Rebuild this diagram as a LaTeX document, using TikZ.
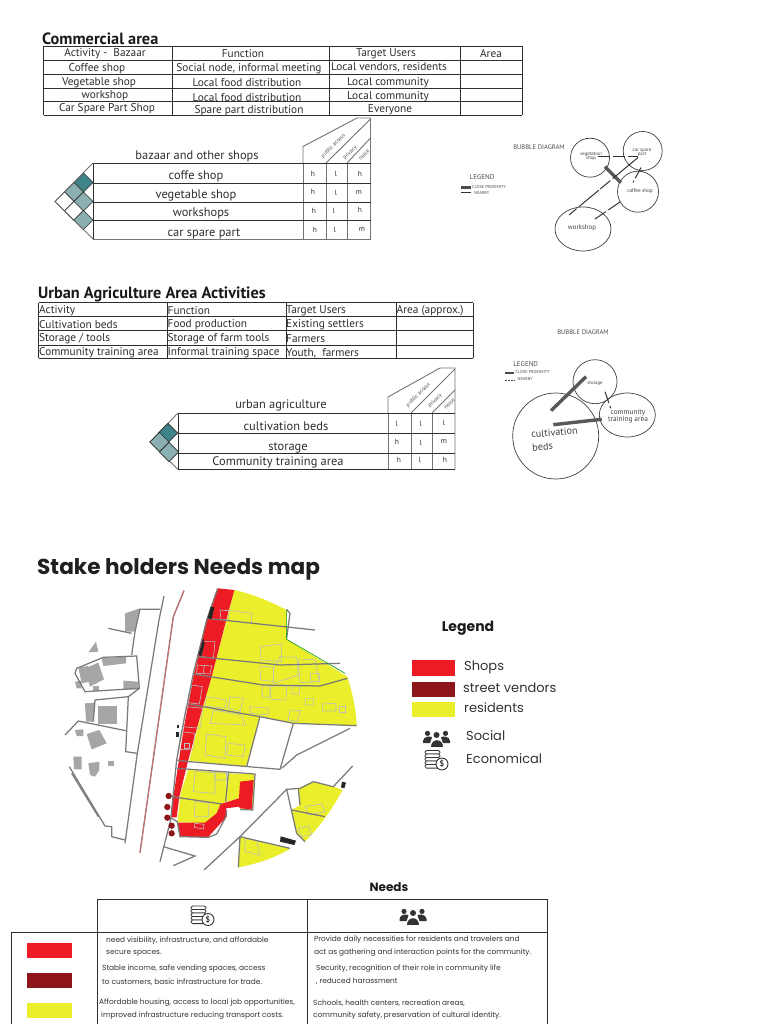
\documentclass[tikz,border=0pt]{standalone}
\usepackage{fontspec}
\setmainfont{PT Sans}
\newfontfamily\pp{Poppins}
\colorlet{ink}{black!82}
\definecolor{tealdark}{HTML}{3F8488}
\definecolor{teallight}{HTML}{8BB0B2}
\definecolor{shopred}{HTML}{ED1C24}
\definecolor{vendred}{HTML}{8E1519}
\definecolor{resyel}{HTML}{EBEE2B}
\colorlet{mapline}{black!52}
\colorlet{mapbld}{black!35}
\colorlet{mapthin}{black!25}
\newcommand{\fs}[1]{\fontsize{#1}{#1}\selectfont}
\newcommand{\cellc}[3]{\path[#3] (#1,#2) -- ++(9.6,-9.6) -- ++(9.6,9.6) -- ++(-9.6,9.6) -- cycle;}
\tikzset{
 gridline/.style={draw=ink,line width=0.9pt},
 gridsoft/.style={draw=black!55,line width=0.9pt},
 ttl/.style={font=\fs{16.3}\bfseries,text=black!90,inner sep=0,anchor=west},
 tt/.style={font=\fs{11.3},text=ink,inner sep=0,yshift=-1.5pt},
 tl/.style={tt,anchor=west},
 rowlab/.style={font=\fs{12.4},text=ink,inner sep=0,yshift=-1.5pt},
 hl/.style={font=\fs{7.5},text=ink,inner sep=0,yshift=-1pt},
 rot/.style={font=\fs{5.6},text=black!70,inner sep=0,rotate=45},
 bub/.style={draw=black!75,line width=0.7pt,circle,inner sep=0},
 tinyt/.style={text=black!70,inner sep=0},
 bt/.style={text=black!75,inner sep=0,align=center},
 thickline/.style={draw=black!65,line width=3.4pt},
 dashline/.style={draw=black!80,line width=1pt,dash pattern=on 12pt off 3pt},
 pp12/.style={font=\pp\fs{13},text=black!80,inner sep=0,anchor=west},
 ppbold/.style={font=\pp\bfseries\fs{14},text=black!90,inner sep=0},
 nd/.style={font=\pp\fs{7.4},text=black!80,inner sep=0,anchor=west},
 peopleicon/.pic={
  \fill[black!80] (0,-3) circle (3);
  \fill[black!80] (-9,-4.6) circle (2.6);
  \fill[black!80] (9,-4.6) circle (2.6);
  \fill[black!80] (-13.5,3) .. controls (-13.5,-2) and (-5,-2.5) .. (-4.5,-0.5) -- (-6.5,5) -- (-13.5,5) -- cycle;
  \fill[black!80] (13.5,3) .. controls (13.5,-2) and (5,-2.5) .. (4.5,-0.5) -- (6.5,5) -- (13.5,5) -- cycle;
  \fill[black!80] (-6,8.5) .. controls (-6,-0.5) and (6,-0.5) .. (6,8.5) -- cycle;
 },
 coinsicon/.pic={
  \foreach \yy in {-8,-4.5,-1,2.5,6}{
   \draw[black!80,line width=0.8pt,fill=white,rounded corners=1.5pt] (-11,\yy-2) rectangle (4,\yy+1.6);
  }
  \draw[black!80,line width=0.9pt,fill=white] (6,3.5) circle (6);
  \node[font=\fs{8}\bfseries,text=black!80,inner sep=0] at (6,3.5) {\$};
 }
}
\begin{document}
\begin{tikzpicture}[x=1pt,y=-1pt]
\useasboundingbox (0,0) rectangle (768,1024);
\fill[white] (0,0) rectangle (768,1024);

% ---------- Commercial area
\node[ttl] (t1) at (42,39) {Commercial area};
\foreach \yy in {46,60,74.5,88,101.5,115}{\draw[gridline] (43.5,\yy) -- (522,\yy);}
\foreach \xx in {43.5,172,329.5,460,522}{\draw[gridline] (\xx,46) -- (\xx,115);}
\node[tt] (a1) at (105,52) {Activity -\ \ Bazaar};
\node[tt] (a2) at (97,67) {Coffee shop};
\node[tt] (a3) at (99,81) {Vegetable shop};
\node[tt] (a4) at (105,94) {workshop};
\node[tt] (a5) at (107,107) {Car Spare Part Shop};
\node[tt] (b1) at (243,52.5) {Function};
\node[tt] (b2) at (249,67.5) {Social node, informal meeting};
\node[tt] (b3) at (247,81) {Local food distribution};
\node[tt] (b4) at (247,96) {Local food distribution};
\node[tt] (b5) at (249,109) {Spare part distribution};
\node[tt] (c1) at (386,52.5) {Target Users};
\node[tt] (c2) at (389,66) {Local vendors, residents};
\node[tt] (c3) at (388,81) {Local community};
\node[tt] (c4) at (388,95) {Local community};
\node[tt] (c5) at (390,108) {Everyone};
\node[tt] (d1) at (491,52.5) {Area};

% matrix 1
\draw[gridsoft] (303,163) -- (303,146.5) -- (357,118) -- (370.5,118) -- (370.5,239);
\draw[gridsoft] (326,163) -- (370.5,119);
\draw[gridsoft] (347,163) -- (370.5,138);
\foreach \xx in {303,326,347}{\draw[gridsoft] (\xx,163) -- (\xx,239);}
\foreach \yy in {163,183,202,220}{\draw[gridline] (93,\yy) -- (370.5,\yy);}
\draw[gridsoft] (93,239) -- (370.5,239);
\draw[gridline] (93,163) -- (93,239);
\cellc{73.8}{182.5}{fill=tealdark,draw=ink,line width=0.7pt}
\cellc{64.3}{192}{fill=teallight,draw=ink,line width=0.7pt}
\cellc{73.8}{201.5}{fill=teallight,draw=ink,line width=0.7pt}
\cellc{55}{201.5}{fill=white,draw=ink,line width=0.7pt}
\cellc{64.3}{211}{fill=white,draw=ink,line width=0.7pt}
\cellc{73.8}{220}{fill=teallight,draw=ink,line width=0.7pt}
\draw[gridsoft] (93,163) -- (55,201.5) -- (93,239);
\node[rowlab] (m1) at (197,155) {bazaar and other shops};
\node[rowlab] (m2) at (196,174.5) {coffe shop};
\node[rowlab] (m3) at (196,194) {vegetable shop};
\node[rowlab] (m4) at (201,212) {workshops};
\node[rowlab] (m5) at (204,232) {car spare part};
\node[rot] (r1) at (333.3,146) {public access};
\node[rot] (r2) at (350,152.7) {privacy};
\node[rot] (r3) at (364,155) {noise};
\node[hl] (h11) at (313,173) {h};\node[hl] (h12) at (336,173) {l};\node[hl] (h13) at (360,173) {h};
\node[hl] (h21) at (313,191) {h};\node[hl] (h22) at (336,192) {l};\node[hl] (h23) at (359,192) {m};
\node[hl] (h31) at (314,210) {h};\node[hl] (h32) at (334,210) {l};\node[hl] (h33) at (360,209) {h};
\node[hl] (h41) at (315,229) {h};\node[hl] (h42) at (335,229) {l};\node[hl] (h43) at (362,229) {m};

% bubble 1
\node[tinyt,font=\fs{6.6}] (bd1) at (539,147) {BUBBLE DIAGRAM};
\node[tinyt,font=\fs{7}] (lg1) at (482,177) {LEGEND};
\coordinate (l1a) at (461,187.3); \coordinate (l1b) at (471,187.3);
\coordinate (l1c) at (461,192.7); \coordinate (l1d) at (471,192.7);
\draw[draw=black!70,line width=2.5pt] (l1a) -- (l1b);
\draw[draw=black!80,line width=0.8pt] (l1c) -- (l1d);
\node[tinyt,font=\fs{4.3},anchor=west] (lg1a) at (472,187.3) {CLOSE PROXIMITY};
\node[tinyt,font=\fs{4.3},anchor=west] (lg1b) at (474,192.7) {NEARBY};
\node[bub,minimum size=39pt] (veg) at (590,157.7) {};
\node[bub,minimum size=39pt] (car) at (642.7,151) {};
\node[bub,minimum size=41pt] (cof) at (638,191.7) {};
\draw[draw=black!75,line width=0.7pt] (583,229) ellipse (28 and 22);
\node[bt,font=\fs{4.8}] (vegt) at (591,156) {vegetation\\[-1pt]shop};
\node[bt,font=\fs{4.8}] (cart) at (642,153) {car spare\\[-1pt]part};
\node[bt,font=\fs{5.2}] (coft) at (640,191) {coffee shop};
\node[bt,font=\fs{6.8}] (wkt) at (582,228) {workshop};
\coordinate (p1) at (605,166.7); \coordinate (p2) at (621,182.7);
\coordinate (p3) at (598,157); \coordinate (p4) at (638,157);
\coordinate (p5) at (638,157.5); \coordinate (p6) at (569,215);
\coordinate (p7) at (641,167.5); \coordinate (p8) at (633,182.5);
\coordinate (p9) at (620,202); \coordinate (p10) at (595,219);
\draw[thickline] (p1) -- (p2);
\draw[dashline] (p3) -- (p4);
\draw[dashline,dash pattern=on 33pt off 3pt on 13pt off 2pt on 26pt off 3pt on 10pt off 9pt] (p5) -- (p6);
\draw[dashline] (p7) -- (p8);
\draw[dashline,dash pattern=on 14pt off 3pt] (p9) -- (p10);

% ---------- Urban agriculture
\node[ttl] (t2) at (38,294) {Urban Agriculture Area Activities};
\foreach \yy in {302.5,316.5,330.5,345,358}{\draw[gridline] (38.5,\yy) -- (473,\yy);}
\foreach \xx in {38.5,167,286,396,473}{\draw[gridline] (\xx,302.5) -- (\xx,358);}
\node[tl] (e1) at (39,309.5) {Activity};
\node[tl] (e2) at (39,323.5) {Cultivation beds};
\node[tl] (e3) at (39,337.5) {Storage / tools};
\node[tl] (e4) at (39,351.5) {Community training area};
\node[tl] (f1) at (167.5,309.5) {Function};
\node[tl] (f2) at (167.5,323.5) {Food production};
\node[tl] (f3) at (167.5,337.5) {Storage of farm tools};
\node[tl] (f4) at (167.5,351.5) {Informal training space};
\node[tl] (g1) at (286,309.5) {Target Users};
\node[tl] (g2) at (286,323.5) {Existing settlers};
\node[tl] (g3) at (286,337.5) {Farmers};
\node[tl] (g4) at (286,351.5) {Youth,\ \ farmers};
\node[tl] (i1) at (396.5,309.5) {Area (approx.)};

% matrix 2
\draw[gridsoft] (388,413) -- (388,397) -- (440,368) -- (455,368) -- (455,469.5);
\draw[gridsoft] (411,413) -- (455,369);
\draw[gridsoft] (432,413) -- (455,390);
\foreach \xx in {388,411,432}{\draw[gridsoft] (\xx,413) -- (\xx,469.5);}
\foreach \yy in {413,433,453,469.5}{\draw[gridline] (178,\yy) -- (455,\yy);}
\draw[gridsoft] (178,413) -- (150,442) -- (178,469.5);
\draw[gridline] (178,413) -- (178,469.5);
\cellc{158.4}{433}{fill=tealdark,draw=ink,line width=0.7pt}
\cellc{149.8}{442}{fill=teallight,draw=ink,line width=0.7pt}
\cellc{159.4}{452}{fill=teallight,draw=ink,line width=0.7pt}
\node[rowlab] (n1) at (281,404) {urban agriculture};
\node[rowlab] (n2) at (286,425) {cultivation beds};
\node[rowlab] (n3) at (288,446) {storage};
\node[rowlab] (n4) at (278,461) {Community training area};
\node[rot] (s1) at (418.3,395) {public access};
\node[rot] (s2) at (435,400.7) {privacy};
\node[rot] (s3) at (449.3,404) {noise};
\node[hl] (k11) at (397,423) {l};\node[hl] (k12) at (421,423) {l};\node[hl] (k13) at (444,422) {l};
\node[hl] (k21) at (397,441) {h};\node[hl] (k22) at (421,442) {l};\node[hl] (k23) at (444,441) {m};
\node[hl] (k31) at (399,459) {h};\node[hl] (k32) at (420,459) {l};\node[hl] (k33) at (445,459) {h};

% bubble 2
\node[tinyt,font=\fs{6.6}] (bd2) at (583,332) {BUBBLE DIAGRAM};
\node[tinyt,font=\fs{7}] (lg2) at (525.7,363.7) {LEGEND};
\coordinate (l2a) at (505,372.7); \coordinate (l2b) at (514.3,372.7);
\coordinate (l2c) at (505,380); \coordinate (l2d) at (515,380);
\draw[draw=black!70,line width=1.6pt] (l2a) -- (l2b);
\draw[draw=black!70,line width=1pt,dash pattern=on 2pt off 1pt] (l2c) -- (l2d);
\node[tinyt,font=\fs{4.3},anchor=west] (lg2a) at (515.5,372.3) {CLOSE PROXIMITY};
\node[tinyt,font=\fs{4.3},anchor=west] (lg2b) at (517.5,378.5) {NEARBY};
\node[bub,minimum size=44pt] (sto) at (595,381.7) {};
\node[bub,minimum size=86pt] (cul) at (555.7,436) {};
\draw[draw=black!75,line width=0.7pt] (627.3,415) ellipse (28 and 22);
\node[bt,font=\fs{4.8}] (stot) at (595,383.5) {storage};
\node[bt,font=\fs{7.3}] (comt) at (628,416.5) {community\\[-0.5pt]training area};
\node[bt,font=\fs{10.2},rotate=5,align=left] (cult) at (555,439) {cultivation\\[3pt]beds};
\coordinate (q1) at (551,410.7); \coordinate (q2) at (586,376.7);
\coordinate (q3) at (553.3,424.7); \coordinate (q4) at (601.7,419.3);
\coordinate (q5) at (605,391.7); \coordinate (q6) at (610.7,408.3);
\draw[thickline] (q1) -- (q2);
\draw[thickline] (q3) -- (q4);
\draw[dashline] (q5) -- (q6);

% ---------- Stake holders
\node[font=\pp\bfseries\fs{21.6},text=black!88,inner sep=0,anchor=west] (t3) at (37,569) {Stake holders Needs map};

\begin{scope}[shift={(60,580)},xscale=1/3,yscale=1/3]
 % yellow
 \fill[resyel] (523,30) .. controls (590,45) and (640,70) .. (680,90) -- (680,178) -- (862,290) .. controls (878,340) and (888,390) .. (890,436) -- (700,430) -- (600,410) -- (558,560) -- (388,542) -- (430,375) -- (455,290) -- cycle;
 \fill[resyel] (385,568) -- (500,578) -- (497,665) -- (480,680) -- (470,705) -- (435,730) -- (352,726) -- (362,640) -- cycle;
 \fill[resyel] (505,580) -- (583,583) -- (578,690) -- (540,685) -- (537,656) -- (498,665) -- cycle;
 \fill[resyel] (715,625) -- (760,605) -- (820,620) -- (848,630) .. controls (815,690) and (775,745) .. (735,785) -- (710,760) -- (695,690) -- (720,675) -- cycle;
 \fill[resyel] (540,770) -- (690,806) .. controls (650,832) and (590,852) .. (535,862) -- cycle;
 % red
 \fill[shopred] (473,25) -- (523,30) -- (500,115) -- (455,290) -- (430,375) -- (385,540) -- (358,650) -- (350,712) -- (332,712) -- (340,650) -- (372,440) -- (400,290) -- (440,120) -- cycle;
 \fill[shopred] (540,605) -- (581,600) -- (575,688) -- (540,685) -- (537,680) -- (498,685) -- (500,710) -- (450,765) -- (445,772) -- (360,770) -- (352,728) -- (435,728) -- (470,700) -- (482,672) -- (537,655) -- cycle;
 % buildings
 \fill[mapbld] (195,100) -- (240,85) -- (225,155) -- (195,155) -- cycle;
 \fill[mapbld] (85,217) -- (108,185) -- (115,215) -- cycle;
 \fill[mapbld] (125,235) -- (198,230) -- (198,250) -- (130,258) -- cycle;
 \fill[mapbld] (75,265) -- (115,248) -- (132,298) -- (90,320) -- cycle;
 \fill[mapbld] (55,262) -- (85,258) -- (90,305) -- (65,310) -- cycle;
 \fill[mapbld] (45,305) -- (65,302) -- (65,325) -- (50,325) -- cycle;
 \fill[mapbld] (100,318) -- (118,318) -- (118,332) -- (100,332) -- cycle;
 \fill[mapbld] (190,302) -- (235,305) -- (235,328) -- (190,328) -- cycle;
 \fill[mapbld] (75,370) -- (103,368) -- (100,425) -- (78,425) -- cycle;
 \fill[mapbld] (115,378) -- (170,378) -- (170,432) -- (115,432) -- cycle;
 \fill[mapbld] (45,450) -- (70,448) -- (70,468) -- (50,468) -- cycle;
 \fill[mapbld] (80,462) -- (118,450) -- (140,490) -- (95,508) -- cycle;
 \fill[mapbld] (40,530) -- (65,530) -- (65,568) -- (42,568) -- cycle;
 \fill[mapbld] (85,550) -- (118,545) -- (118,570) -- (105,590) -- (90,585) -- cycle;
 \fill[mapbld] (143,542) -- (162,542) -- (162,557) -- (143,557) -- cycle;
 % thin outlines
 \begin{scope}[draw=mapthin,line width=0.6pt]
  \draw (500,90) -- (575,100) -- (575,130);
  \draw (600,200) -- (665,192) -- (665,245) -- (603,240) -- cycle;
  \draw (660,230) -- (710,232) -- (715,285) -- (640,310) -- (640,265) -- cycle;
  \draw (600,258) -- (640,262) -- (640,305) -- (602,300) -- cycle;
  \draw (715,240) -- (765,238) -- (778,305) -- (720,308) -- cycle;
  \draw (750,280) -- (778,280) -- (778,305) -- (752,305) -- cycle;
  \draw (630,318) -- (680,318) -- (678,360) -- (632,358) -- cycle;
  \draw (605,318) -- (630,318) -- (630,352) -- (608,352) -- cycle;
  \draw (695,320) -- (720,320) -- (718,342) -- (697,342) -- cycle;
  \draw (737,355) -- (762,355) -- (760,375) -- (737,375) -- cycle;
  \draw (787,372) -- (828,370) -- (828,393) -- (787,393) -- cycle;
  \draw (838,378) -- (855,378) -- (855,398) -- (838,398) -- cycle;
  \draw (570,380) -- (625,385) -- (625,405) -- (570,400) -- cycle;
  \draw (510,350) -- (550,355) -- (540,395) -- (505,385) -- cycle;
  \draw (440,350) -- (500,360) -- (495,385) -- (435,378) -- cycle;
  \draw (460,390) -- (545,405) -- (555,435) -- (450,430) -- cycle;
  \draw (440,462) -- (498,470) -- (495,535) -- (435,525) -- cycle;
  \draw (505,490) -- (555,495) -- (550,530) -- (500,525) -- cycle;
  \draw (690,390) -- (722,392) -- (712,425) -- (685,420) -- cycle;
  \draw (405,575) -- (465,578) -- (465,640) -- (400,635) -- cycle;
  \draw (465,578) -- (500,580) -- (500,600) -- (465,600) -- cycle;
  \draw (405,665) -- (445,668) -- (445,710) -- (403,710) -- cycle;
  \draw (735,680) -- (785,672) -- (795,695) -- (745,705) -- cycle;
  \draw (715,745) -- (745,738) -- (755,765) -- (725,770) -- cycle;
  \draw (555,775) -- (590,782) -- (600,825) -- (555,815) -- cycle;
  \draw (480,90) -- (505,92) -- (505,118) -- (483,118) -- cycle;
  \draw (430,185) -- (465,185) -- (460,235) -- (425,230) -- cycle;
  \draw (412,255) -- (455,258) -- (450,282) -- (410,280) -- cycle;
  \draw (433,255) -- (430,280);
  \draw (395,315) -- (427,320) -- (418,372) -- (385,368) -- cycle;
  \draw (378,380) -- (428,385) -- (420,445) -- (368,440) -- cycle;
  \draw (362,455) -- (405,460) -- (398,510) -- (355,508) -- cycle;
  \draw (372,490) -- (388,490) -- (388,505) -- (372,505) -- cycle;
  \draw (405,730) -- (432,733) -- (430,747) -- (403,742) -- cycle;
 \end{scope}
 % roads
 \begin{scope}[draw=mapline,line width=1.25pt]
  \draw (312,48) -- (297,120) -- (232,520) -- (195,790);
  \draw (473,25) -- (440,120) -- (400,280) -- (370,430) -- (350,540) -- (332,720) -- (300,845);
  \draw (145,145) -- (215,160);
  \draw (300,88) -- (240,88) -- (225,155) -- (215,225);
  \draw (50,265) -- (130,232) -- (230,228) -- (238,325) -- (75,335) -- (45,280) -- cycle;
  \draw (238,325) -- (205,350) -- (105,360) -- (100,425);
  \draw (205,350) -- (197,515) -- (232,520);
  \draw (15,465) -- (55,423) -- (197,452);
  \draw (28,560) -- (135,738) -- (155,740) -- (155,770) -- (195,780);
  \draw (35,580) -- (115,710);
  \draw (310,800) -- (405,828) -- (340,857);
  \draw (440,115) -- (765,150);
  \draw (415,230) -- (660,255) -- (840,250);
  \draw (400,282) -- (610,315) -- (780,318) -- (862,295);
  \draw (385,372) -- (600,410) -- (700,430) -- (890,437);
  \draw (350,540) -- (388,545) -- (660,568) -- (700,430);
  \draw (600,410) -- (560,560);
  \draw (665,565) -- (710,525) -- (870,445);
  \draw (350,565) -- (585,582) -- (578,690) -- (540,688);
  \draw (505,578) -- (497,665);
  \draw (335,650) -- (485,672);
  \draw (500,690) -- (498,710) -- (470,762) -- (445,772) -- (360,770) -- (352,725) -- (335,715);
  \draw (432,870) -- (540,770) -- (680,628) -- (720,625) -- (760,605) -- (820,620) -- (878,558);
  \draw (680,628) -- (710,760) -- (735,785);
  \draw (540,770) -- (690,805);
  \draw (535,862) -- (540,770);
  \draw (695,690) -- (795,710);
  \draw (715,625) -- (720,675);
  \draw (680,88) -- (690,100) -- (680,175);
 \end{scope}
 % black
 \fill[black!85] (452,80) -- (463,82) -- (455,117) -- (443,115) -- cycle;
 \fill[black!85] (430,175) -- (415,225) -- (425,228) -- (434,190) -- cycle;
 \fill[black!85] (350,434) rectangle (357,445);
 \fill[black!85] (347,455) rectangle (358,472);
 \fill[black!85] (662,769) -- (708,782) -- (703,795) -- (660,785) -- cycle;
 \fill[black!85] (846,605) -- (858,608) -- (853,625) -- (843,622) -- cycle;
 \draw[draw=black!50,line width=1.4pt] (372,32) -- (340,110) -- (240,818);
 \draw[draw=shopred!70,line width=0.6pt] (372,32) -- (340,110) -- (240,818);
 \draw[draw=green!60!black,line width=0.6pt] (680,90) -- (680,178) -- (855,280);
 \foreach \px/\py in {326/648,322/681,322/713,335/737,335/760}{\fill[vendred] (\px,\py) circle (9.5);}
\end{scope}

% Legend
\node[ppbold] (lt) at (468,628) {Legend};
\fill[shopred] (411.7,660) rectangle (455,676);
\fill[vendred] (411.7,682) rectangle (455,697.3);
\fill[resyel] (411.7,701.7) rectangle (455,717.3);
\node[pp12] (lx1) at (464,667) {Shops};
\node[pp12] (lx2) at (463,688) {street vendors};
\node[pp12] (lx3) at (464,708) {residents};
\pic at (436.5,738) {peopleicon};
\pic at (436,760.5) {coinsicon};
\node[pp12] (lx4) at (466,736) {Social};
\node[pp12] (lx5) at (466,759) {Economical};

% Needs table
\node[ppbold,font=\pp\bfseries\fs{12}] (nt) at (389,887.5) {Needs};
\draw[gridline] (97,1024) -- (97,899) -- (547,899) -- (547,1024);
\draw[gridline] (307,899) -- (307,1024);
\draw[gridline] (11,1024) -- (11,932) -- (547,932);
\pic at (202,916) {coinsicon};
\pic at (413,916) {peopleicon};
\fill[shopred] (27,942.7) rectangle (72,958);
\fill[vendred] (27,973) rectangle (72,988);
\fill[resyel] (27,1003) rectangle (72,1018);
\node[nd] (x1) at (106,941) {need visibility, infrastructure, and affordable};
\node[nd] (x2) at (106,953.5) {secure spaces.};
\node[nd] (x3) at (102,969) {Stable income, safe vending spaces, access};
\node[nd] (x4) at (102,982) {to customers, basic infrastructure for trade.};
\node[nd] (x5) at (99,1003) {Affordable housing, access to local job opportunities,};
\node[nd] (x6) at (101,1016) {improved infrastructure reducing transport costs.};
\node[nd] (y1) at (314,940) {Provide daily necessities for residents and travelers and};
\node[nd] (y2) at (314,952.5) {act as gathering and interaction points for the community.};
\node[nd] (y3) at (316,969) {Security, recognition of their role in community life};
\node[nd] (y4) at (316,981.5) {, reduced harassment};
\node[nd] (y5) at (313,1003) {Schools, health centers, recreation areas,};
\node[nd] (y6) at (313,1016) {community safety, preservation of cultural identity.};
\end{tikzpicture}
\end{document}
